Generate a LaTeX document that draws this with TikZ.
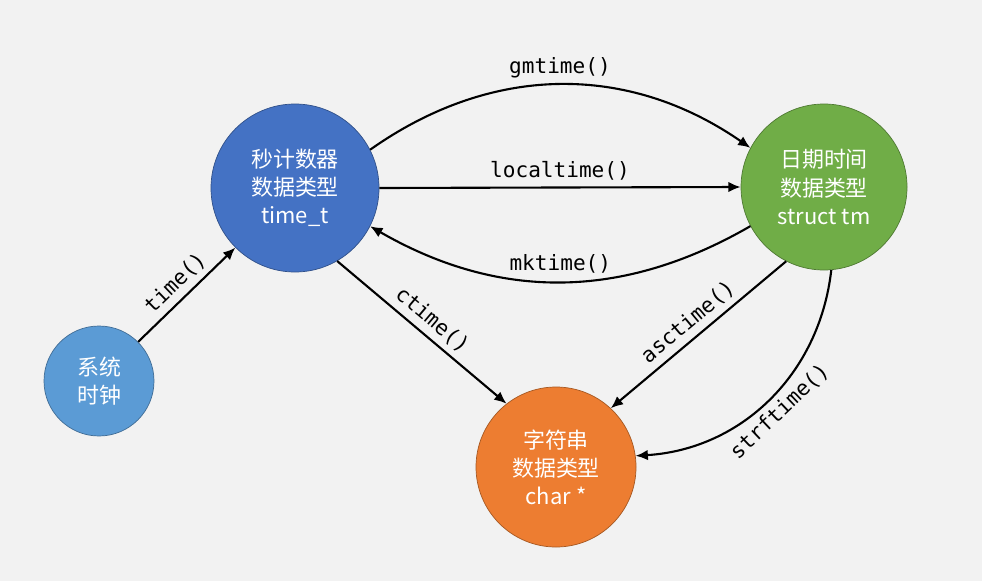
\documentclass[tikz,border=0pt]{standalone}
\usepackage{fontspec}
\setmainfont{Noto Sans CJK SC}
\newfontfamily\labelfont{DejaVu Sans Mono}
\usetikzlibrary{arrows.meta}
\definecolor{clockblue}{HTML}{5B9BD5}
\definecolor{secblue}{HTML}{4472C4}
\definecolor{tmgreen}{HTML}{70AD47}
\definecolor{strorange}{HTML}{ED7D31}
\begin{document}
\begin{tikzpicture}
   [
     x = 0.02cm, y = -0.02cm,
     every node/.style = {font=\fontsize{12}{15}\selectfont},
     state/.style = {circle, draw, text=white, align=center,
       inner sep=0pt, font=\fontsize{12.5}{16}\selectfont},
     conv/.style  = {draw, line width=1.2pt, -{Latex[length=7pt,width=6pt]}},
     fname/.style = {font=\labelfont\fontsize{12}{14}\selectfont}
   ]
    \fill [gray!10] (0,0) rectangle (982,581);
    \node [state, fill=clockblue, draw=clockblue!70!black, minimum size=110*0.02cm]
      (clock) at (99,381) {系统\\时钟};
    \node [state, fill=secblue, draw=secblue!70!black, minimum size=168*0.02cm]
      (sec) at (295,188) {秒计数器\\数据类型\\time\_t};
    \node [state, fill=tmgreen, draw=tmgreen!70!black, minimum size=166*0.02cm]
      (tm) at (824,187) {日期时间\\数据类型\\struct tm};
    \node [state, fill=strorange, draw=strorange!70!black, minimum size=160*0.02cm]
      (str) at (556,467) {字符串\\数据类型\\char *};

    \draw [conv] (clock.45) -- node [fname, sloped, above] {time()} (sec.225);
    \draw [conv] (sec.27) to [bend left=35] node [fname, above] {gmtime()} (tm.152);
    \draw [conv] (sec.east) -- node [fname, above] {localtime()} (tm.west);
    \draw [conv] (tm.208) to [bend left=30] node [fname, above=1pt] {mktime()} (sec.333);
    \draw [conv] (sec.300) -- node [fname, sloped, above] {ctime()} (str.128);
    \draw [conv] (tm.243) -- node [fname, sloped, above] {asctime()} (str.47);
    \draw [conv] (tm.275) to [bend left=40] node [fname, sloped, below] {strftime()} (str.8);
\end{tikzpicture}
\end{document}
